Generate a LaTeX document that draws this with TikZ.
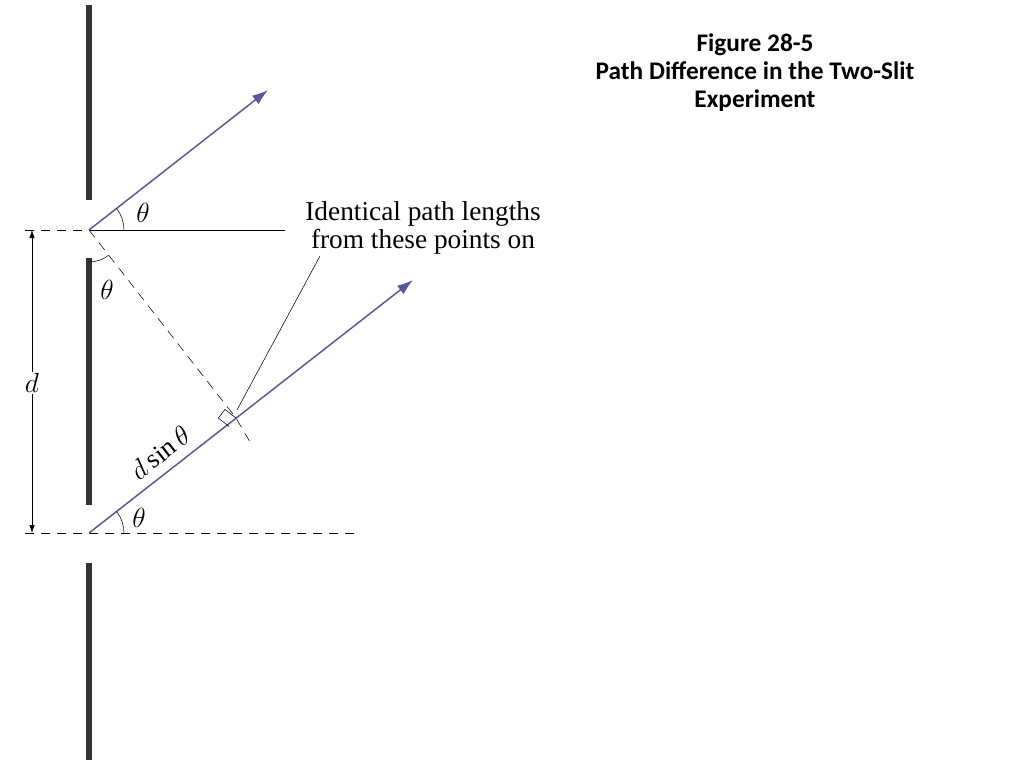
\documentclass[tikz,border=0pt]{standalone}
\usepackage{fontspec}
\setmainfont{Liberation Serif}
\newfontfamily\titlefont{Carlito}
\usetikzlibrary{calc,arrows.meta}
\definecolor{raycolor}{HTML}{5558A0}
\definecolor{wallgray}{HTML}{333333}

\begin{document}
\begin{tikzpicture}[x=0.75pt, y=-0.75pt,
    wall/.style={line width=4.5pt, color=wallgray},
    ray/.style={-{Latex[length=12pt,width=8pt]}, line width=1.1pt, color=raycolor},
    guide/.style={thin, dash pattern=on 7pt off 5pt},
    label/.style={font=\fontsize{20}{22}\selectfont\itshape}
  ]
  \useasboundingbox (0,0) rectangle (1024,768);

  % screen with two slits
  \draw[wall] (89,5) -- (89,200);
  \draw[wall] (89,258) -- (89,505);
  \draw[wall] (89,563) -- (89,760);

  \coordinate (slitA) at (89,230);
  \coordinate (slitB) at (89,533);
  \coordinate (foot) at (236,418);

  % reference lines
  \draw[guide] (25,230) -- (slitA);
  \draw[thin] (slitA) -- (285,230);
  \draw[guide] (25,533) -- (slitB) -- (357,533);
  \draw[guide] (slitA) -- (foot) -- (250,442);

  % rays
  \draw[ray] (slitA) -- (268,90);
  \draw[ray] (slitB) -- (413,280);

  % right angle mark
  \draw[thin] (foot) -- ++(-11,-8.6) -- ++(-6.7,8.6) -- ++(11,8.6);

  % angle arcs
  \draw[thin] (124,230) arc[start angle=0, end angle=-38, radius=35];
  \draw[thin] (124,533) arc[start angle=0, end angle=-38, radius=35];
  \draw[thin] (89,262) arc[start angle=90, end angle=52, radius=32];
  \node[label] (thA) at (143,213) {$\theta$};
  \node[label] (thC) at (107,290) {$\theta$};
  \node[label] (thB) at (139,518) {$\theta$};

  % separation d
  \draw[thin, {Latex[length=6pt,width=4pt]}-{Latex[length=6pt,width=4pt]}] (32,230) -- (32,533);
  \node[label, fill=white, inner sep=1pt] (dlab) at (32,383) {$d$};

  % path difference
  \node[label, rotate=38] (dsin) at (160,453) {$d\sin\theta$};

  % annotation
  \node[font=\fontsize{20.5}{21.5}\selectfont, align=center] (note) at (423,228)
    {Identical path lengths\\from these points on};
  \coordinate (noteEnd) at (237,410);
  \draw[thin] (320,256) -- (noteEnd);

  % title
  \node[font=\titlefont\bfseries\fontsize{19}{21}\selectfont, align=center] (title) at (755,73)
    {Figure 28-5\\Path Difference in the Two-Slit\\Experiment};
\end{tikzpicture}
\end{document}
